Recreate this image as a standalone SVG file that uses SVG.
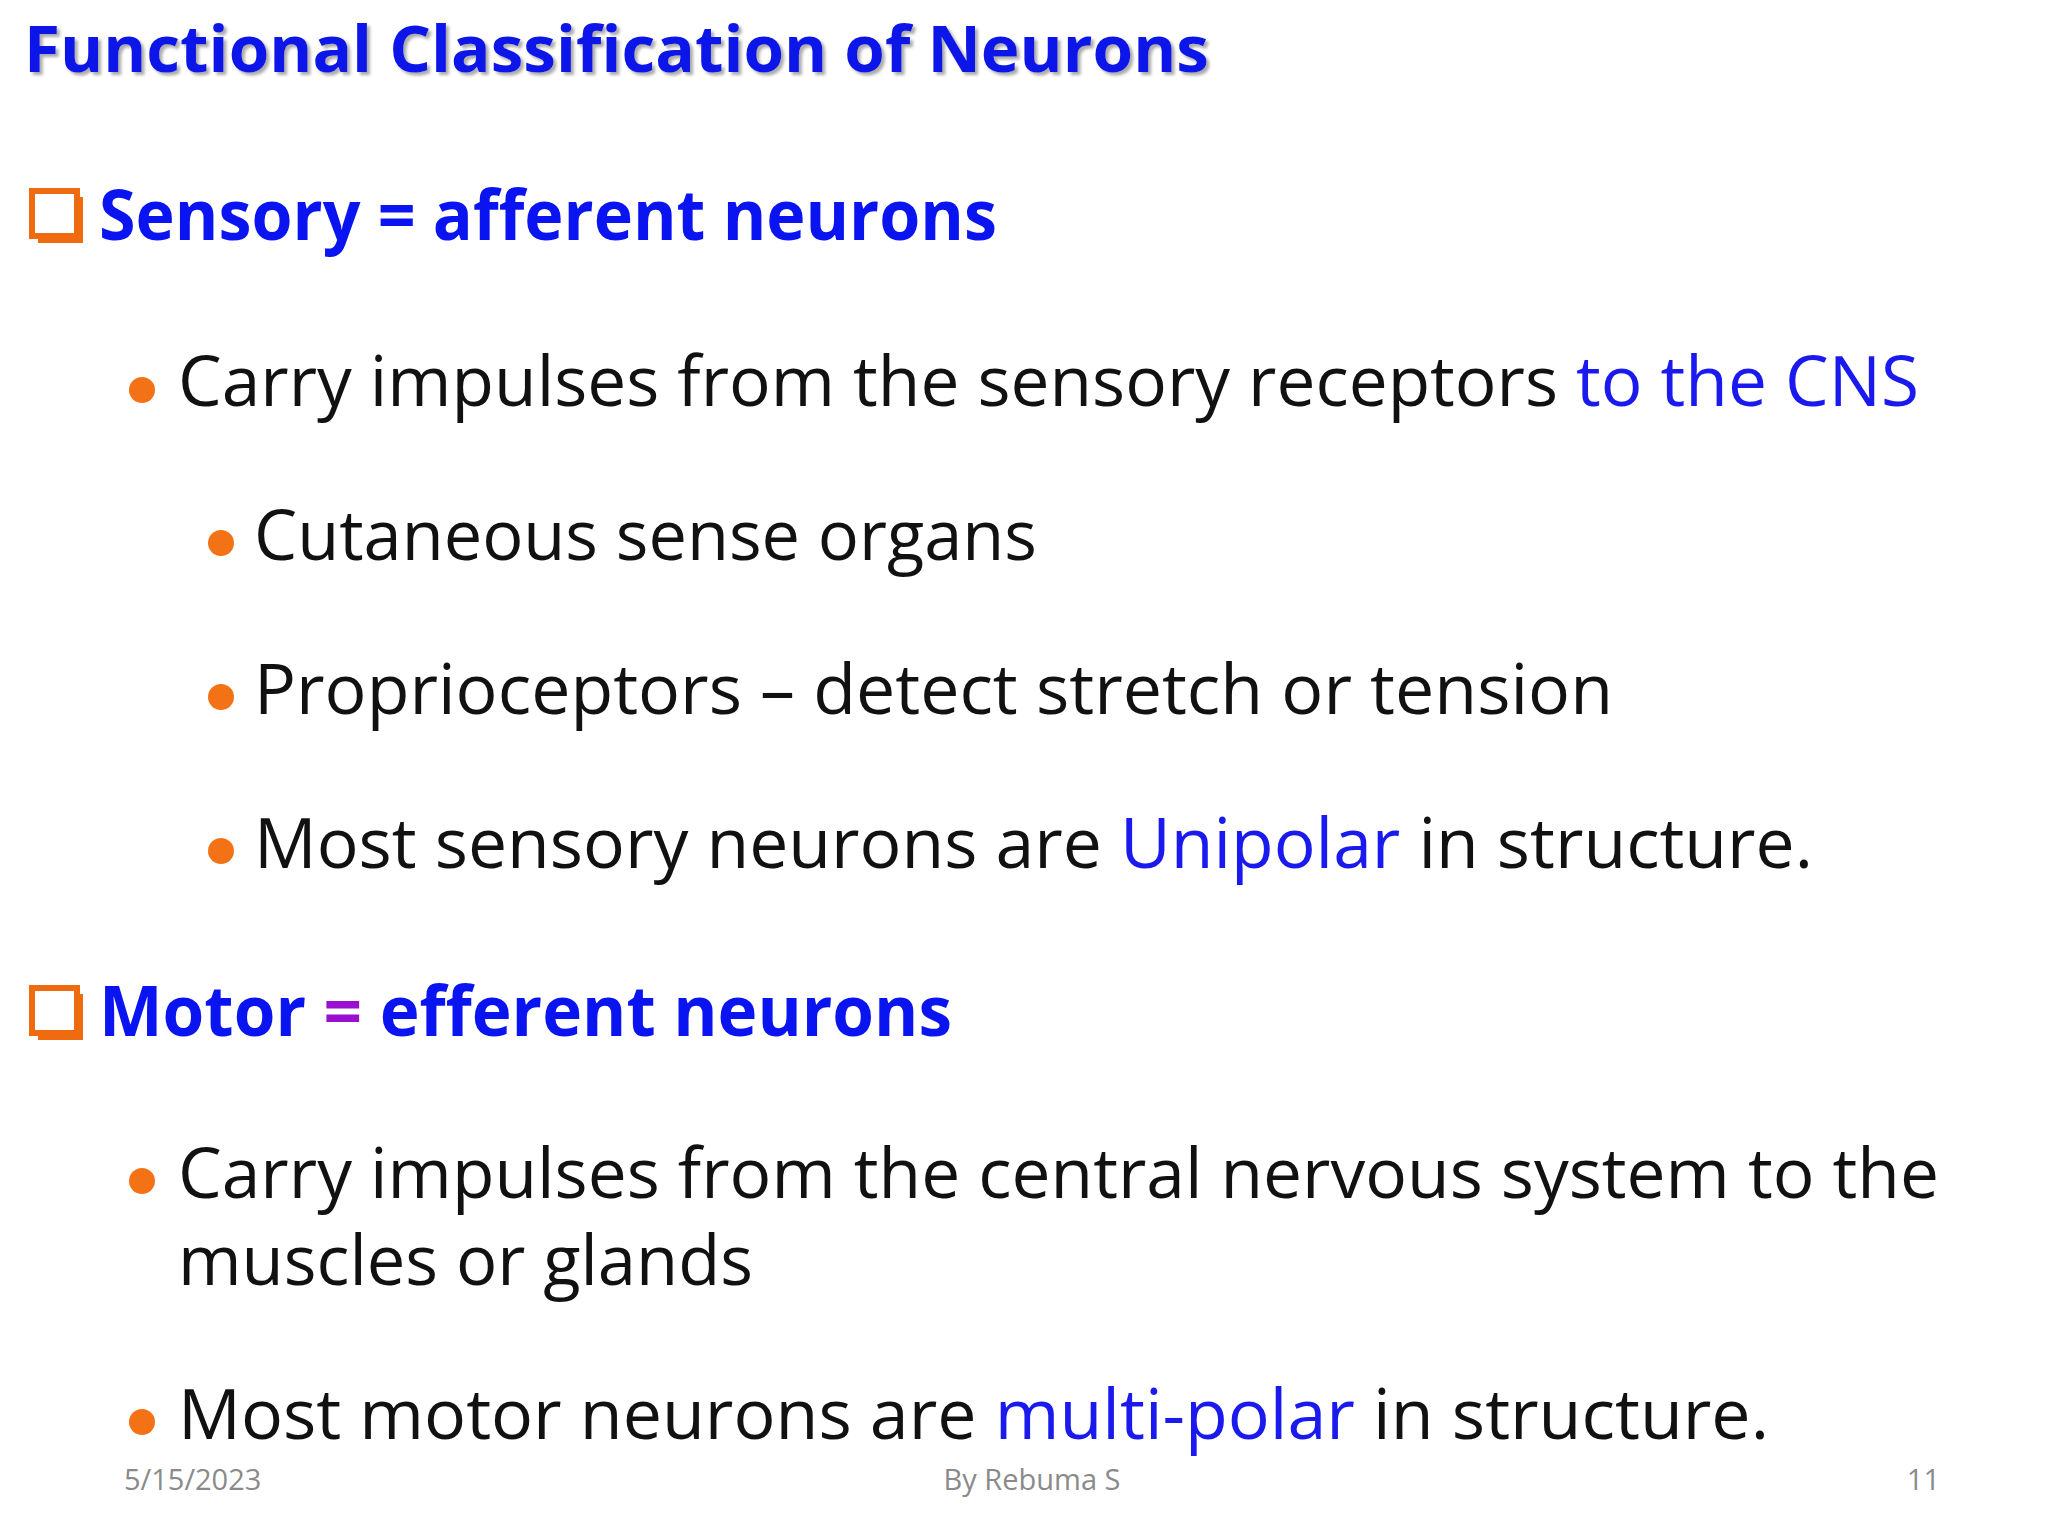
<svg xmlns="http://www.w3.org/2000/svg" width="2048" height="1536" viewBox="0 0 2048 1536">
<defs>
<style>
.t{font-family:"Open Sans","Liberation Sans",sans-serif}
.h{font-weight:bold;fill:#0a14f0;font-size:70px}
.b{font-size:70px;fill:#111}
.bl{fill:#1a1aee}
.f{font-size:29px;fill:#8a8a8a}
.dot{fill:#f47216}
.box{fill:none;stroke:#f06a10;stroke-width:6}
</style>
<filter id="sh"><feDropShadow dx="3" dy="3" stdDeviation="1.5" flood-color="#888" flood-opacity="0.7"/></filter>
</defs>
<rect width="2048" height="1536" fill="#fff"/>
<g id="title"><text class="t" x="24" y="72" font-size="64" font-weight="bold" fill="#0a14e8" filter="url(#sh)" textLength="1185" lengthAdjust="spacingAndGlyphs">Functional Classification of Neurons</text></g>
<g id="sensory">
<rect class="box" x="32" y="191" width="45" height="45"/><path d="M80 197 V240 H38" fill="none" stroke="#f06a10" stroke-width="6"/>
<text class="t h" x="99" y="240" textLength="898" lengthAdjust="spacingAndGlyphs">Sensory = afferent neurons</text>
<circle class="dot" cx="142" cy="390" r="13"/>
<text class="t b" x="178" y="406" textLength="1741" lengthAdjust="spacingAndGlyphs">Carry impulses from the sensory receptors <tspan class="bl">to the CNS</tspan></text>
<circle class="dot" cx="221" cy="543" r="13"/>
<text class="t b" x="254" y="560" textLength="783" lengthAdjust="spacingAndGlyphs">Cutaneous sense organs</text>
<circle class="dot" cx="221" cy="697" r="13"/>
<text class="t b" x="254" y="714" textLength="1359" lengthAdjust="spacingAndGlyphs">Proprioceptors – detect stretch or tension</text>
<circle class="dot" cx="221" cy="851" r="13"/>
<text class="t b" x="254" y="868" textLength="1559" lengthAdjust="spacingAndGlyphs">Most sensory neurons are <tspan class="bl">Unipolar</tspan> in structure.</text>
</g>
<g id="motor">
<rect class="box" x="32" y="988" width="45" height="45"/><path d="M80 994 V1037 H38" fill="none" stroke="#f06a10" stroke-width="6"/>
<text class="t h" x="99" y="1036" textLength="853" lengthAdjust="spacingAndGlyphs">Motor <tspan fill="#9a10d0">=</tspan> efferent neurons</text>
<circle class="dot" cx="142" cy="1181" r="13"/>
<text class="t b" x="178" y="1198" textLength="1761" lengthAdjust="spacingAndGlyphs">Carry impulses from the central nervous system to the</text>
<text class="t b" x="178" y="1285" textLength="575" lengthAdjust="spacingAndGlyphs">muscles or glands</text>
<circle class="dot" cx="142" cy="1422" r="13"/>
<text class="t b" x="178" y="1439" textLength="1591" lengthAdjust="spacingAndGlyphs">Most motor neurons are <tspan class="bl">multi-polar</tspan> in structure.</text>
</g>
<g id="footer">
<text class="t f" x="124" y="1490">5/15/2023</text>
<text class="t f" x="1032" y="1490" text-anchor="middle">By Rebuma S</text>
<text class="t f" x="1940" y="1490" text-anchor="end">11</text>
</g>
</svg>
